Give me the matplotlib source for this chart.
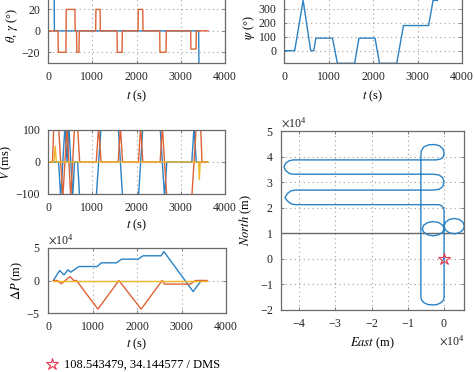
import numpy as np
import matplotlib
matplotlib.use("Agg")
import matplotlib.pyplot as plt
from matplotlib.lines import Line2D
from matplotlib.ticker import ScalarFormatter

plt.rcParams['font.family'] = ['Liberation Serif', 'DejaVu Serif']
plt.rcParams['mathtext.fontset'] = 'stix'
plt.rcParams['font.size'] = 8.5

C_BLUE = '#2a82c4'
C_ORANGE = '#dd6236'
C_YELLOW = '#eeb527'
C_STAR = '#e8384f'
C_SPINE = '#6a6a6a'

# ---------------- data ----------------
# pitch (theta) and roll (gamma) in degrees
theta_t = [0, 130, 145, 3405, 3420]
theta_v = [90, 90, 0, 0, -90]
gamma_t = [0, 226, 232, 405, 412, 608, 614, 645, 651, 700, 706, 1077, 1083, 1177, 1183,
           1560, 1566, 1674, 1680, 2034, 2040, 2141, 2147, 2524, 2530, 2668, 2674,
           3224, 3230, 3346, 3352, 3616]
gamma_v = [0, 0, -20, -20, 20, 20, 0, 0, -20, -20, 0, 0, 20, 20, 0,
           0, -20, -20, 0, 0, 20, 20, 0, 0, -20, -20, 0,
           0, -17, -17, 0, 0]

# heading psi in degrees
psi_t = [0, 240, 430, 600, 670, 715, 1090, 1200, 1587, 1685, 2045, 2146, 2534, 2685, 3250, 3350, 3450]
psi_v = [0, 0, 360, 0, 0, 90, 90, -90, -90, 90, 90, -90, -90, 180, 180, 360, 360]

# velocity components (m/s)
ve_t = [0, 240, 287, 335, 382, 430, 472, 515, 557, 600, 670, 715, 1090, 1145, 1200, 1587, 1636,
        1685, 2045, 2094, 2143, 2534, 2584, 2634, 2685, 3250, 3300, 3350, 3600]
ve_v = [0, 0, -110, 0, 110, 0, 110, 0, -110, 0, 0, -110, -110, 0, 110, 110, 0,
        -110, -110, 0, 110, 110, 0, -110, 0, 0, 110, 0, 0]
vn_t = [0, 100, 130, 240, 287, 335, 382, 430, 472, 515, 557, 600, 670, 715, 1090, 1145, 1200,
        1587, 1636, 1685, 2045, 2094, 2143, 2534, 2584, 2634, 2685, 3250, 3300, 3350, 3450,
        3480, 3600]
vn_v = [0, 0, 110, 110, 0, -110, 0, 110, 0, -110, 0, 110, 110, 0, 0, 110, 0,
        0, 110, 0, 0, 110, 0, 0, 110, 0, -110, -110, 0, 110, 110,
        0, 0]
vu_t = [0, 135, 160, 190, 3405, 3420, 3440, 3616]
vu_v = [0, 0, 50, 0, 0, -55, 0, 0]

# position offsets (m)
dpn_t = [120, 262, 360, 449, 509, 696, 1107, 1197, 1541, 1653, 2027, 2132, 2543, 2603, 3261, 3448]
dpn_v = [0, 1.54e4, 0.87e4, 1.64e4, 1.28e4, 2.15e4, 2.15e4, 2.72e4, 2.72e4, 3.28e4, 3.28e4,
         3.8e4, 3.8e4, 4.46e4, -1.7e4, 0]
dpe_t = [120, 209, 299, 494, 580, 640, 1122, 1593, 2094, 2566, 2618, 3200, 3314, 3575]
dpe_v = [0, 0, -0.5e4, 0.6e4, 0, 0, -4.4e4, 0, -4.4e4, 0, -0.55e4, -0.55e4, 0, 0]
dpu_t = [120, 3575]
dpu_v = [0, 0]

# trajectory (m)
traj_east = [0, 0,
             -0.04e4, -0.15e4, -0.30e4, -0.45e4, -0.56e4, -0.60e4, -0.56e4, -0.45e4, -0.30e4, -0.15e4, -0.04e4, 0,
             0, 0.04e4, 0.14e4, 0.28e4, 0.42e4, 0.52e4, 0.56e4, 0.52e4, 0.42e4, 0.28e4, 0.14e4, 0.04e4, 0,
             0, -0.02e4, -0.07e4, -0.14e4,
             -4.1e4, -4.22e4, -4.32e4, -4.39e4, -4.32e4, -4.22e4, -4.1e4,
             -0.3e4, -0.14e4, -0.04e4, 0, -0.04e4, -0.14e4, -0.3e4,
             -4.15e4, -4.27e4, -4.37e4, -4.42e4, -4.37e4, -4.27e4, -4.15e4,
             -0.2e4, -0.07e4, -0.01e4, 0, -0.03e4, -0.12e4, -0.25e4, -0.42e4, -0.56e4, -0.63e4, -0.64e4,
             -0.64e4, -0.62e4, -0.55e4, -0.44e4, -0.32e4, -0.2e4, -0.09e4, -0.02e4, 0, 0]
traj_north = [0, 1.18e4,
              1.32e4, 1.42e4, 1.46e4, 1.42e4, 1.32e4, 1.18e4, 1.04e4, 0.94e4, 0.90e4, 0.94e4, 1.04e4, 1.18e4,
              1.28e4, 1.43e4, 1.54e4, 1.58e4, 1.54e4, 1.43e4, 1.28e4, 1.13e4, 1.02e4, 0.98e4, 1.02e4, 1.13e4, 1.28e4,
              1.9e4, 2.0e4, 2.08e4, 2.12e4,
              2.12e4, 2.15e4, 2.26e4, 2.4e4, 2.56e4, 2.66e4, 2.69e4,
              2.69e4, 2.72e4, 2.82e4, 3.0e4, 3.18e4, 3.28e4, 3.31e4,
              3.31e4, 3.34e4, 3.45e4, 3.59e4, 3.74e4, 3.84e4, 3.87e4,
              3.87e4, 3.92e4, 4.02e4, 4.15e4, 4.3e4, 4.42e4, 4.47e4, 4.46e4, 4.38e4, 4.22e4, 4.0e4,
              -1.5e4, -1.62e4, -1.72e4, -1.79e4, -1.8e4, -1.79e4, -1.72e4, -1.62e4, -1.5e4, 0]
start_east = [0]
start_north = [0]

legend_label = '108.543479, 34.144577 / DMS'

# ---------------- figure ----------------
W, H = 474, 372
fig = plt.figure(figsize=(W / 100, H / 100), dpi=100)


def ax_px(left, right, top, bottom):
    return fig.add_axes([left / W, 1 - bottom / H, (right - left) / W, (bottom - top) / H])


def style(ax):
    for s in ax.spines.values():
        s.set_color(C_SPINE)
        s.set_linewidth(0.9)
    ax.tick_params(direction='in', length=2.5, width=0.6, colors=C_SPINE, labelcolor='#222222',
                   labelsize=8.5, top=True, right=True, pad=5.5)
    ax.grid(True, linestyle=(0, (1, 3)), color='#a0a0a0', linewidth=0.8)
    ax.set_axisbelow(True)


lw = 1.0
tticks = [0, 1000, 2000, 3000, 4000]
LFS = 9

# theta, gamma
ax1 = ax_px(48, 225, -12, 63)
style(ax1)
ax1.plot(theta_t, theta_v, color=C_BLUE, lw=lw)
ax1.plot(gamma_t, gamma_v, color=C_ORANGE, lw=lw)
ax1.set_xlim(0, 4000)
ax1.set_ylim(-30, 40)
ax1.set_xticks(tticks)
ax1.set_yticks([-20, 0, 20])
ax1.set_xlabel(r'$t$ (s)', fontsize=LFS, labelpad=4)
ax1.set_ylabel(r'$\theta$, $\gamma$ (°)', fontsize=LFS, labelpad=1)

# psi
ax2 = ax_px(284, 462, -8, 63)
style(ax2)
ax2.plot(psi_t, psi_v, color=C_BLUE, lw=lw)
ax2.set_xlim(0, 4000)
ax2.set_ylim(-88, 420)
ax2.set_xticks(tticks)
ax2.set_yticks([0, 100, 200, 300])
ax2.set_xlabel(r'$t$ (s)', fontsize=LFS, labelpad=4)
ax2.set_ylabel(r'$\psi$ (°)', fontsize=LFS, labelpad=1)

# V
ax3 = ax_px(48, 225, 130, 194)
style(ax3)
ax3.plot(ve_t, ve_v, color=C_BLUE, lw=lw)
ax3.plot(vn_t, vn_v, color=C_ORANGE, lw=lw)
ax3.plot(vu_t, vu_v, color=C_YELLOW, lw=lw)
ax3.set_xlim(0, 4000)
ax3.set_ylim(-100, 100)
ax3.set_xticks(tticks)
ax3.set_yticks([-100, 0, 100])
ax3.set_xlabel(r'$t$ (s)', fontsize=LFS, labelpad=2.5)
ax3.set_ylabel(r'$V$ (ms)', fontsize=LFS, labelpad=1)

# Delta P
ax4 = ax_px(48, 226, 248, 313)
style(ax4)
ax4.plot(dpn_t, dpn_v, color=C_BLUE, lw=lw)
ax4.plot(dpe_t, dpe_v, color=C_ORANGE, lw=lw)
ax4.plot(dpu_t, dpu_v, color=C_YELLOW, lw=lw)
ax4.set_xlim(0, 4000)
ax4.set_ylim(-5e4, 5e4)
ax4.set_xticks(tticks)
ax4.set_yticks([-5e4, 0, 5e4])
fmt = ScalarFormatter(useMathText=True)
fmt.set_powerlimits((0, 0))
ax4.yaxis.set_major_formatter(fmt)
ax4.yaxis.get_offset_text().set_fontsize(8.5)
ax4.set_xlabel(r'$t$ (s)', fontsize=LFS, labelpad=3)
ax4.set_ylabel(r'$\Delta P$ (m)', fontsize=LFS, labelpad=1)

# trajectory
ax5 = ax_px(281, 464, 131, 310)
style(ax5)
ax5.axhline(1e4, color=C_SPINE, lw=1.0, zorder=1)
ax5.plot(traj_east, traj_north, color=C_BLUE, lw=lw, zorder=2)
ax5.plot(start_east, start_north, linestyle='none', marker='*', ms=9, mfc='none',
         mec=C_STAR, mew=0.8, zorder=3)
ax5.set_xlim(-4.5e4, 0.55e4)
ax5.set_ylim(-2e4, 5e4)
ax5.set_xticks([-4e4, -3e4, -2e4, -1e4, 0])
ax5.set_yticks([-2e4, -1e4, 0, 1e4, 2e4, 3e4, 4e4, 5e4])
for axis in (ax5.xaxis, ax5.yaxis):
    f = ScalarFormatter(useMathText=True)
    f.set_powerlimits((0, 0))
    axis.set_major_formatter(f)
    axis.get_offset_text().set_fontsize(8.5)
ax5.set_xlabel(r'$\mathit{East}$ (m)', fontsize=LFS, labelpad=4)
ax5.set_ylabel(r'$\mathit{North}$ (m)', fontsize=LFS, labelpad=4)

# legend
handle = Line2D([], [], linestyle='none', marker='*', ms=9, mfc='none', mec=C_STAR, mew=0.8)
fig.legend([handle], [legend_label], loc='center left', frameon=False,
           bbox_to_anchor=(44 / W, 1 - 365 / H), fontsize=9, handletextpad=0.4,
           borderaxespad=0, borderpad=0, handlelength=1.2)

fig.savefig('out.png', dpi=100)
